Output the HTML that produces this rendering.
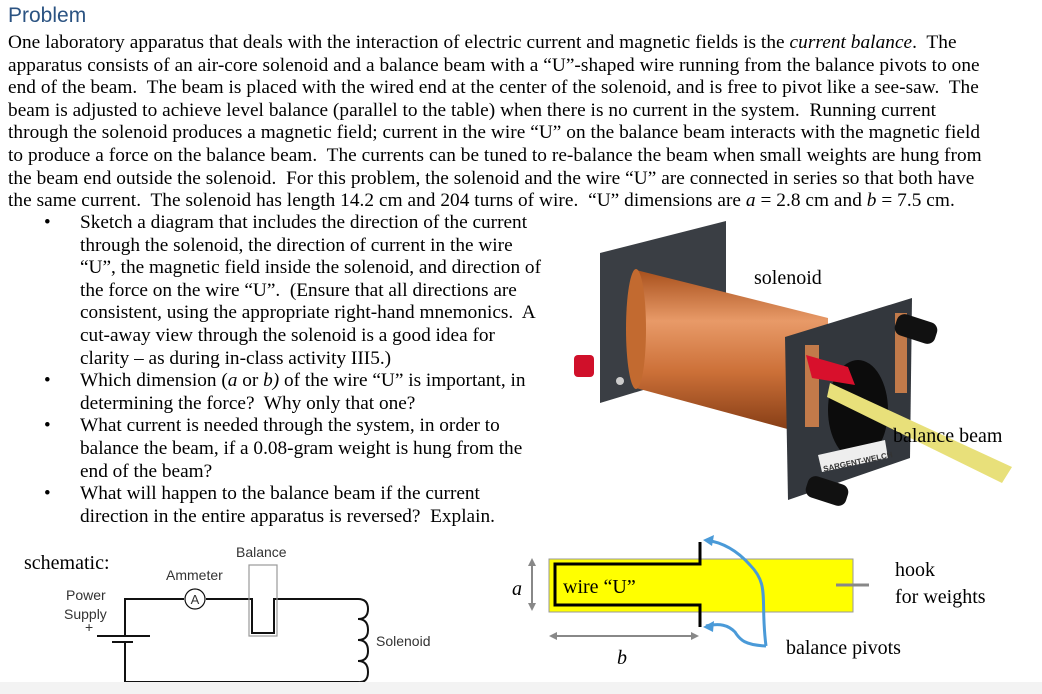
<!DOCTYPE html>
<html><head><meta charset="utf-8"><style>
body{margin:0;background:#fff;width:1042px;height:694px;overflow:hidden;position:relative;font-family:"Liberation Serif",serif;color:#000}
.h{position:absolute;left:8px;top:4px;font:21px "Liberation Sans",sans-serif;color:#2b5382}
.p{position:absolute;left:8px;top:32px;font-size:19.3px;line-height:22.6px;white-space:nowrap;letter-spacing:0.05px}
.b{position:absolute;left:80px;top:212px;font-size:19.3px;line-height:22.6px;white-space:nowrap;letter-spacing:0px}
.dot{position:absolute;left:44px;font-size:19px}
</style></head><body>
<div class="h">Problem</div>
<div class="p">One laboratory apparatus that deals with the interaction of electric current and magnetic fields is the <i>current balance</i>.&nbsp; The<br>
apparatus consists of an air-core solenoid and a balance beam with a “U”-shaped wire running from the balance pivots to one<br>
end of the beam.&nbsp; The beam is placed with the wired end at the center of the solenoid, and is free to pivot like a see-saw.&nbsp; The<br>
beam is adjusted to achieve level balance (parallel to the table) when there is no current in the system.&nbsp; Running current<br>
through the solenoid produces a magnetic field; current in the wire “U” on the balance beam interacts with the magnetic field<br>
to produce a force on the balance beam.&nbsp; The currents can be tuned to re-balance the beam when small weights are hung from<br>
the beam end outside the solenoid.&nbsp; For this problem, the solenoid and the wire “U” are connected in series so that both have<br>
the same current.&nbsp; The solenoid has length 14.2 cm and 204 turns of wire.&nbsp; “U” dimensions are <i>a</i> = 2.8 cm and <i>b</i> = 7.5 cm.</div>
<div class="dot" style="top:212px">•</div>
<div class="dot" style="top:370px">•</div>
<div class="dot" style="top:415px">•</div>
<div class="dot" style="top:483px">•</div>
<div class="b">Sketch a diagram that includes the direction of the current<br>
through the solenoid, the direction of current in the wire<br>
“U”, the magnetic field inside the solenoid, and direction of<br>
the force on the wire “U”.&nbsp; (Ensure that all directions are<br>
consistent, using the appropriate right-hand mnemonics.&nbsp; A<br>
cut-away view through the solenoid is a good idea for<br>
clarity – as during in-class activity III5.)<br>
Which dimension (<i>a</i> or <i>b)</i> of the wire “U” is important, in<br>
determining the force?&nbsp; Why only that one?<br>
What current is needed through the system, in order to<br>
balance the beam, if a 0.08-gram weight is hung from the<br>
end of the beam?<br>
What will happen to the balance beam if the current<br>
direction in the entire apparatus is reversed?&nbsp; Explain.</div>

<svg style="position:absolute;left:0;top:0" width="1042" height="694">
<defs>
<linearGradient id="cu" x1="0" y1="0" x2="0" y2="1"><stop offset="0" stop-color="#a8501c"/><stop offset=".3" stop-color="#e89a68"/><stop offset=".6" stop-color="#cc7038"/><stop offset="1" stop-color="#7a3510"/></linearGradient>
</defs>
<polygon points="600,253 726,221 726,365 600,403" fill="#3a3e44"/>
<polygon points="636,270 828,318 828,440 636,388" fill="url(#cu)"/>
<ellipse cx="636" cy="329" rx="10" ry="60" fill="#c26a30"/>
<rect x="574" y="355" width="20" height="22" rx="4" fill="#d0102a"/>
<circle cx="620" cy="381" r="4" fill="#ccc"/>
<polygon points="785,337 912,298 910,458 788,500" fill="#33373d"/>
<ellipse cx="858" cy="410" rx="30" ry="50" fill="#0c0c0c"/>
<rect x="805" y="345" width="14" height="82" fill="#c27a4a"/>
<rect x="895" y="313" width="12" height="80" fill="#c27a4a"/>
<polygon points="806,355 848,367 855,385 812,378" fill="#d8102c"/>
<rect x="895" y="318" width="42" height="22" rx="8" fill="#111" transform="rotate(18 916 329)"/>
<rect x="806" y="480" width="42" height="22" rx="8" fill="#111" transform="rotate(18 827 491)"/>
<polygon points="830,383 1012,467 1002,483 827,397" fill="#e8e07a"/>
<polygon points="818,455 885,440 888,458 822,472" fill="#eee"/>
<text x="822" y="466" font-family="Liberation Sans" font-size="8" font-weight="bold" fill="#333" transform="rotate(-12 850 460)">SARGENT-WELCH</text>
<text x="754" y="284" font-size="20" font-family="Liberation Serif">solenoid</text>
<text x="893" y="442" font-size="20" font-family="Liberation Serif">balance beam</text>
<!-- schematic -->
<g stroke="#111" stroke-width="2" fill="none">
<polyline points="125,636 125,599 184,599"/>
<polyline points="206,599 252,599 252,633 274,633 274,599 358,599"/>
<path d="M358,599 q10,0 10,10 q0,10 -10,10 q10,0 10,11 q0,10 -10,10 q10,0 10,11 q0,10 -10,10 q10,0 10,11 q0,11 -10,10 L125,682 L125,642"/>
<line x1="97" y1="636" x2="150" y2="636"/>
<line x1="112" y1="642" x2="133" y2="642"/>
</g>
<rect x="249" y="565" width="28" height="71" fill="none" stroke="#999" stroke-width="1.2"/>
<circle cx="195" cy="599" r="10" fill="#fff" stroke="#111" stroke-width="1.2"/>
<text x="195" y="604" text-anchor="middle" font-family="Liberation Sans" font-size="13" fill="#333">A</text>
<text x="85" y="632" font-family="Liberation Sans" font-size="14" fill="#333">+</text>
<text x="24" y="569" font-size="20" font-family="Liberation Serif">schematic:</text>
<text x="236" y="557" font-family="Liberation Sans" font-size="14" fill="#333">Balance</text>
<text x="166" y="580" font-family="Liberation Sans" font-size="14" fill="#333">Ammeter</text>
<text x="66" y="600" font-family="Liberation Sans" font-size="14" fill="#333">Power</text>
<text x="64" y="619" font-family="Liberation Sans" font-size="14" fill="#333">Supply</text>
<text x="376" y="646" font-family="Liberation Sans" font-size="14" fill="#333">Solenoid</text>
<!-- wire U -->
<rect x="549" y="559" width="304" height="53" fill="#ffff00" stroke="#999" stroke-width="1"/>
<polyline points="700,542 700,564 555,564 555,605 700,605 700,627" fill="none" stroke="#000" stroke-width="3"/>
<line x1="836" y1="585" x2="869" y2="585" stroke="#888" stroke-width="3"/>
<g stroke="#888" stroke-width="2" fill="#888">
<line x1="532" y1="563" x2="532" y2="607"/>
<polygon points="532,558 528,566 536,566" stroke="none"/>
<polygon points="532,611 528,603 536,603" stroke="none"/>
<line x1="554" y1="636" x2="694" y2="636"/>
<polygon points="549,636 557,632 557,640" stroke="none"/>
<polygon points="699,636 691,632 691,640" stroke="none"/>
</g>
<g stroke="#4a9ad8" stroke-width="3" fill="none">
<path d="M766,646 C760,600 770,585 750,565 C735,548 720,542 706,540"/>
<path d="M766,646 C745,645 740,640 735,632 C728,625 720,623 706,626"/>
</g>
<polygon points="703,540 714,535 712,546" fill="#4a9ad8"/>
<polygon points="703,627 714,621 713,632" fill="#4a9ad8"/>
<text x="563" y="593" font-size="20" font-family="Liberation Serif">wire “U”</text>
<text x="512" y="595" font-size="20" font-style="italic" font-family="Liberation Serif">a</text>
<text x="617" y="664" font-size="20" font-style="italic" font-family="Liberation Serif">b</text>
<text x="895" y="576" font-size="20" font-family="Liberation Serif">hook</text>
<text x="895" y="603" font-size="20" font-family="Liberation Serif">for weights</text>
<text x="786" y="654" font-size="20" font-family="Liberation Serif">balance pivots</text>
<rect x="0" y="682" width="1042" height="12" fill="#f3f3f3"/>
</svg>
</body></html>
